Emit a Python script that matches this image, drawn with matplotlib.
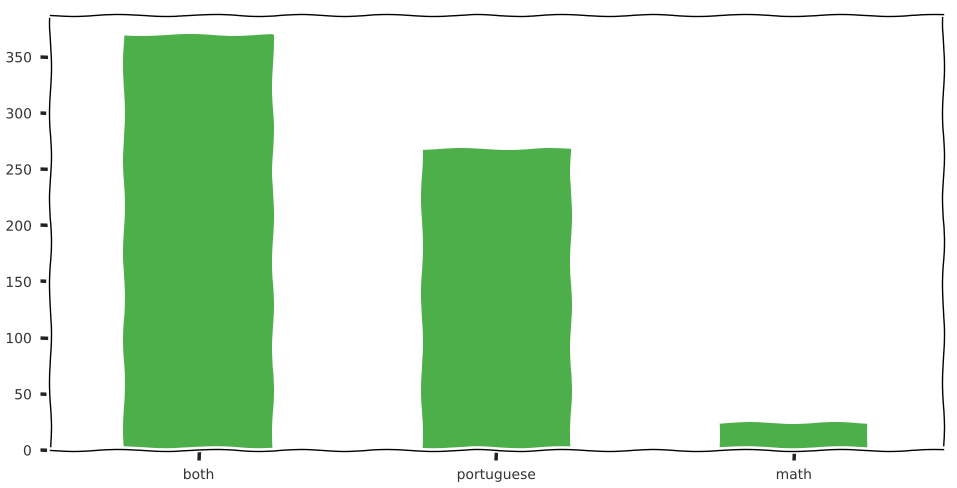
import numpy as np
import matplotlib
matplotlib.use("Agg")
import matplotlib.pyplot as plt

categories = ["both", "portuguese", "math"]
counts = [369, 268, 24]

plt.xkcd()
plt.rcParams['font.family'] = ['DejaVu Sans']
plt.rcParams['font.size'] = 10

fig, ax = plt.subplots(figsize=(9.57, 4.88), dpi=100)
x = np.arange(len(categories))
ax.bar(x, counts, width=0.5, color="#4daf4a")
ax.set_xticks(x)
ax.set_xticklabels(categories)
ax.set_xlim(-0.5, len(categories) - 0.5)
ax.set_yticks(np.arange(0, 351, 50))
ax.tick_params(labelsize=10, length=7, width=2.5, color="#222222",
               labelcolor="#333333", pad=6)
for s in ax.spines.values():
    s.set_linewidth(1.0)

fig.subplots_adjust(left=0.052, right=0.985, top=0.97, bottom=0.078)
fig.savefig("out.png", dpi=100)
